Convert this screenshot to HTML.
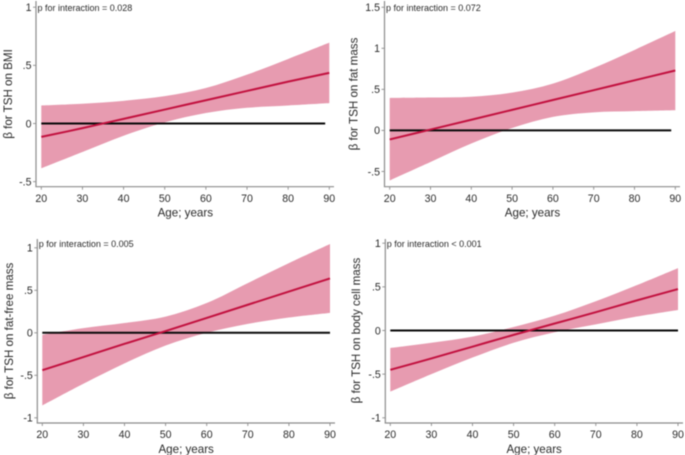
<!DOCTYPE html>
<html>
<head>
<meta charset="utf-8">
<style>
html,body{margin:0;padding:0;background:#fff;width:685px;height:455px;overflow:hidden}
svg{display:block;filter:blur(0.45px)}
text{font-family:"Liberation Sans",Arial,sans-serif;fill:#2a2a2a}
</style>
</head>
<body>
<svg id="figure" xmlns="http://www.w3.org/2000/svg" width="685" height="455" viewBox="0 0 685 455"></svg>
<script>
const ages = [20, 30, 40, 50, 60, 70, 80, 90];
const xTickValues = [20, 30, 40, 50, 60, 70, 80, 90];
const xAxisTitle = 'Age; years';

const bmiLine = [-0.115, -0.04, 0.04, 0.12, 0.20, 0.28, 0.36, 0.435];
const bmiUpper = [0.155, 0.17, 0.195, 0.235, 0.305, 0.42, 0.555, 0.695];
const bmiLower = [-0.385, -0.245, -0.105, 0.01, 0.09, 0.135, 0.155, 0.175];
const bmiTicks = [1, 0.5, 0, -0.5];
const bmiTickLabels = ['1', '.5', '0', '-.5'];

const fatLine = [-0.11, 0.01, 0.13, 0.25, 0.37, 0.49, 0.61, 0.73];
const fatUpper = [0.395, 0.40, 0.41, 0.46, 0.57, 0.76, 0.98, 1.21];
const fatLower = [-0.61, -0.385, -0.16, 0.03, 0.165, 0.22, 0.235, 0.245];
const fatTicks = [1.5, 1, 0.5, 0, -0.5];
const fatTickLabels = ['1.5', '1', '.5', '0', '-.5'];

const ffmLine = [-0.44, -0.285, -0.13, 0.02, 0.175, 0.33, 0.485, 0.64];
const ffmUpper = [-0.024, 0.055, 0.115, 0.19, 0.35, 0.585, 0.82, 1.045];
const ffmLower = [-0.855, -0.6, -0.36, -0.15, 0.0, 0.105, 0.18, 0.235];
const ffmTicks = [1, 0.5, 0, -0.5, -1];
const ffmTickLabels = ['1', '.5', '0', '-.5', '-1'];

const bcmLine = [-0.45, -0.32, -0.185, -0.05, 0.08, 0.21, 0.345, 0.475];
const bcmUpper = [-0.2, -0.14, -0.07, 0.04, 0.17, 0.335, 0.52, 0.715];
const bcmLower = [-0.7, -0.5, -0.31, -0.14, -0.02, 0.07, 0.16, 0.235];
const bcmTicks = [1, 0.5, 0, -0.5, -1];
const bcmTickLabels = ['1', '.5', '0', '-.5', '-1'];

const SVG_NS = 'http://www.w3.org/2000/svg';
const figure = document.getElementById('figure');

function make(parent, tag, attrs, text) {
  const el = document.createElementNS(SVG_NS, tag);
  for (const k in attrs) el.setAttribute(k, attrs[k]);
  if (text !== undefined) el.textContent = text;
  parent.appendChild(el);
  return el;
}

// Smooth curve through the given screen points (Catmull-Rom to cubic Bezier).
function smoothSegments(p) {
  let d = '';
  for (let i = 0; i < p.length - 1; i++) {
    const p0 = p[Math.max(i - 1, 0)];
    const p1 = p[i];
    const p2 = p[i + 1];
    const p3 = p[Math.min(i + 2, p.length - 1)];
    const c1x = p1[0] + (p2[0] - p0[0]) / 6;
    const c1y = p1[1] + (p2[1] - p0[1]) / 6;
    const c2x = p2[0] - (p3[0] - p1[0]) / 6;
    const c2y = p2[1] - (p3[1] - p1[1]) / 6;
    d += ' C' + c1x.toFixed(2) + ' ' + c1y.toFixed(2) + ' ' + c2x.toFixed(2) + ' ' + c2y.toFixed(2) + ' ' + p2[0].toFixed(2) + ' ' + p2[1].toFixed(2);
  }
  return d;
}

function drawPanel(cfg) {
  const g = make(figure, 'g', {});
  
  

  const x = v => cfg.x20 + (v - 20) * (cfg.x90 - cfg.x20) / 70;
  const y = v => cfg.y0 - v * cfg.yPerUnit;
  const pts = ys => ages.map((a, i) => [x(a), y(ys[i])]);
  const start = p => 'M' + p[0][0].toFixed(2) + ' ' + p[0][1].toFixed(2);

  const up = pts(cfg.upper);
  const low = pts(cfg.lower).reverse();
  const band = make(g, 'path', {
    d: start(up) + smoothSegments(up) + ' L' + low[0][0].toFixed(2) + ' ' + low[0][1].toFixed(2) + smoothSegments(low) + ' Z',
    fill: '#e79bb0'
  });
  
  

  const zero = make(g, 'line', {
    x1: x(20), x2: x(cfg.zeroEnd), y1: y(0), y2: y(0),
    stroke: '#0a0a0a', 'stroke-width': 2
  });
  
  

  const linePts = pts(cfg.line);
  const fit = make(g, 'path', {
    d: start(linePts) + smoothSegments(linePts),
    fill: 'none', stroke: '#c2113f', 'stroke-width': 2
  });
  
  

  const yAxis = make(g, 'line', {
    x1: cfg.axisX, x2: cfg.axisX, y1: cfg.axisTop, y2: cfg.axisBottom,
    stroke: '#8c8c8c', 'stroke-width': 1.2
  });
  
  

  const xAxis = make(g, 'line', {
    x1: cfg.axisX - 0.6, x2: cfg.axisRight, y1: cfg.axisBottom, y2: cfg.axisBottom,
    stroke: '#8c8c8c', 'stroke-width': 1.2
  });
  
  

  xTickValues.forEach(v => {
    const tick = make(g, 'line', {
      x1: x(v), x2: x(v), y1: cfg.axisBottom, y2: cfg.axisBottom + 3,
      stroke: '#8c8c8c', 'stroke-width': 0.9
    });
    
    
    const label = make(g, 'text', {
      x: x(v), y: cfg.axisBottom + 15.2, 'text-anchor': 'middle', 'font-size': 10.6
    }, String(v));
    
    
  });

  cfg.ticks.forEach((v, i) => {
    const tick = make(g, 'line', {
      x1: cfg.axisX - 3, x2: cfg.axisX, y1: y(v), y2: y(v),
      stroke: '#8c8c8c', 'stroke-width': 0.9
    });
    
    
    const label = make(g, 'text', {
      x: cfg.axisX - 4.5, y: y(v) + 3.8, 'text-anchor': 'end', 'font-size': 10.6
    }, cfg.tickLabels[i]);
    
    
  });

  const xTitle = make(g, 'text', {
    x: (cfg.x20 + cfg.x90) / 2, y: cfg.axisBottom + 29.8, 'text-anchor': 'middle', 'font-size': 11.6
  }, xAxisTitle);
  
  

  const yTitle = make(g, 'text', {
    transform: 'translate(' + cfg.titleX + ' ' + cfg.titleY + ') rotate(-90)',
    'text-anchor': 'middle', 'font-size': 11.6
  }, cfg.title);
  
  

  const note = make(g, 'text', {
    x: cfg.axisX + 1.5, y: cfg.noteY, 'font-size': 9
  }, cfg.note);
  
  
}

drawPanel({
  id: 'bmi', title: 'β for TSH on BMI', note: 'p for interaction = 0.028',
  line: bmiLine, upper: bmiUpper, lower: bmiLower, ticks: bmiTicks, tickLabels: bmiTickLabels,
  x20: 41.3, x90: 329.3, y0: 123.5, yPerUnit: 116.3, zeroEnd: 89,
  axisX: 36, axisTop: 1, axisBottom: 186.7, axisRight: 334,
  titleX: 12, titleY: 94, noteY: 11
});
drawPanel({
  id: 'fat-mass', title: 'β for TSH on fat mass', note: 'p for interaction = 0.072',
  line: fatLine, upper: fatUpper, lower: fatLower, ticks: fatTicks, tickLabels: fatTickLabels,
  x20: 389.7, x90: 675.3, y0: 130.4, yPerUnit: 82.1, zeroEnd: 89,
  axisX: 384.5, axisTop: 1, axisBottom: 186.7, axisRight: 680,
  titleX: 357.5, titleY: 94, noteY: 11
});
drawPanel({
  id: 'fat-free-mass', title: 'β for TSH on fat-free mass', note: 'p for interaction = 0.005',
  line: ffmLine, upper: ffmUpper, lower: ffmLower, ticks: ffmTicks, tickLabels: ffmTickLabels,
  x20: 42.3, x90: 330, y0: 332.8, yPerUnit: 85, zeroEnd: 90,
  axisX: 37.3, axisTop: 239, axisBottom: 423, axisRight: 335,
  titleX: 13, titleY: 331, noteY: 247
});
drawPanel({
  id: 'body-cell-mass', title: 'β for TSH on body cell mass', note: 'p for interaction < 0.001',
  line: bcmLine, upper: bcmUpper, lower: bcmLower, ticks: bcmTicks, tickLabels: bcmTickLabels,
  x20: 390.3, x90: 678, y0: 330.5, yPerUnit: 87.3, zeroEnd: 90,
  axisX: 385.3, axisTop: 239, axisBottom: 423, axisRight: 683,
  titleX: 360, titleY: 330.5, noteY: 247
});
</script>
</body>
</html>
